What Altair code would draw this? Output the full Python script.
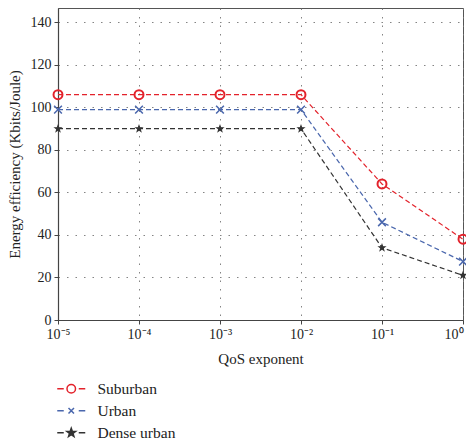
import altair as alt
import pandas as pd

# ---- data ----
qos = [1e-5, 1e-4, 1e-3, 1e-2, 1e-1, 1e0]
suburban = [106, 106, 106, 106, 64, 38]
urban = [99, 99, 99, 99, 46, 27.5]
dense_urban = [90, 90, 90, 90, 34, 21]
series_names = ["Suburban", "Urban", "Dense urban"]
x_tick_labels = ["10⁰", "10⁻¹", "10⁻²", "10⁻³", "10⁻⁴", "10⁻⁵"]
y_ticks = [0, 20, 40, 60, 80, 100, 120, 140]

# ---- styles ----
colors = ["#e3222b", "#4a67ad", "#333333"]
fills = ["transparent", "transparent", "#333333"]
STAR = ("M0,-1L0.235,-0.324L0.951,-0.309L0.380,0.124L0.588,0.809L0,0.4"
        "L-0.588,0.809L-0.380,0.124L-0.951,-0.309L-0.235,-0.324Z")
XMARK = "M-1,-1L1,1M-1,1L1,-1"
marker_shapes = ["circle", XMARK, STAR]
marker_sizes = [80, 40, 90]
marker_widths = [2, 1.1, 1.2]

DASHES = "M-2.8,0L-1.5,0M1.5,0L2.8,0"
LEG_CIRCLE = DASHES + "M0.85,0A0.85,0.85,0,1,1,-0.85,0A0.85,0.85,0,1,1,0.85,0Z"
LEG_X = DASHES + "M-0.55,-0.55L0.55,0.55M-0.55,0.55L0.55,-0.55"
LEG_STAR = DASHES + ("M0,-0.9L0.21,-0.29L0.86,-0.28L0.34,0.11L0.53,0.73L0,0.36"
                     "L-0.53,0.73L-0.34,0.11L-0.86,-0.28L-0.21,-0.29Z")
legend_shapes = [LEG_CIRCLE, LEG_X, LEG_STAR]

FONT = "Liberation Serif"

rows = []
for name, vals in zip(series_names, [suburban, urban, dense_urban]):
    for q, v in zip(qos, vals):
        rows.append({"qos": q, "eff": v, "series": name})
df = pd.DataFrame(rows)

label_expr = "[" + ",".join(f"'{t}'" for t in x_tick_labels) + "][round(-log(datum.value)/LN10)]"

x_enc = alt.X(
    "qos:Q",
    scale=alt.Scale(type="log", domain=[1e-5, 1], nice=False),
    axis=alt.Axis(
        values=qos,
        labelExpr=label_expr,
        title="QoS exponent",
        labelFlush=False,
        labelAlign={"condition": {"test": "datum.value >= 1", "value": "right"}, "value": "center"},
        grid=True,
        gridDash=[1.5, 7],
        gridColor="#777777",
        gridOpacity=0.9,
        tickSize=4,
        labelPadding=3,
        titlePadding=10,
    ),
)
y_enc = alt.Y(
    "eff:Q",
    scale=alt.Scale(domain=[0, 146.8], nice=False, zero=True),
    axis=alt.Axis(
        values=y_ticks,
        title="Energy efficiency (Kbits/Joule)",
        grid=True,
        gridDash=[1.5, 7],
        gridColor="#777777",
        gridOpacity=0.9,
        tickSize=4,
        labelPadding=3,
        titlePadding=8,
    ),
)


def color_scale():
    return alt.Scale(domain=series_names, range=colors)


def fill_scale():
    return alt.Scale(domain=series_names, range=fills)


lines = alt.Chart(df).mark_line(strokeDash=[5, 3], strokeWidth=1.2).encode(
    x=x_enc,
    y=y_enc,
    color=alt.Color("series:N", scale=color_scale(), legend=None),
    detail="series:N",
)

points = alt.Chart(df).mark_point(filled=False, opacity=1).encode(
    x=x_enc,
    y=y_enc,
    color=alt.Color("series:N", scale=color_scale(), legend=None),
    fill=alt.Fill("series:N", scale=fill_scale(), legend=None),
    shape=alt.Shape("series:N", scale=alt.Scale(domain=series_names, range=marker_shapes), legend=None),
    size=alt.Size("series:N", scale=alt.Scale(domain=series_names, range=marker_sizes), legend=None),
    strokeWidth=alt.StrokeWidth("series:N", scale=alt.Scale(domain=series_names, range=marker_widths), legend=None),
)


def make_legend():
    return alt.Legend(
        title=None,
        orient="none",
        legendX=5.5,
        legendY=373,
        direction="vertical",
        labelFont=FONT,
        labelFontSize=15.5,
        labelColor="#222222",
        labelOffset=18.5,
        rowPadding=5,
        padding=0,
    )


legend_layer = (
    alt.Chart(df)
    .transform_filter("false")
    .mark_point(filled=False, opacity=1, size=81, strokeWidth=1.4)
    .encode(
        x=x_enc,
        y=y_enc,
        color=alt.Color("series:N", scale=color_scale(), legend=make_legend()),
        fill=alt.Fill("series:N", scale=fill_scale(), legend=make_legend()),
        shape=alt.Shape("series:N", scale=alt.Scale(domain=series_names, range=legend_shapes), legend=make_legend()),
    )
)

chart = (
    alt.layer(lines, points, legend_layer)
    .resolve_scale(color="independent", shape="independent", fill="independent")
    .properties(
        width=405,
        height=312,
        autosize=alt.AutoSizeParams(type="none"),
        padding={"left": 50, "top": 0, "right": 3, "bottom": 122},
        background="white",
    )
    .configure_view(stroke="#555555", strokeWidth=1)
    .configure_axis(
        labelFont=FONT,
        titleFont=FONT,
        labelFontSize=14,
        titleFontSize=15,
        titleFontWeight="normal",
        labelColor="#222222",
        titleColor="#222222",
        domainColor="#444444",
        tickColor="#444444",
        domainWidth=1.2,
    )
)

chart.save("out.html", embed_options={"renderer": "svg", "actions": False})
